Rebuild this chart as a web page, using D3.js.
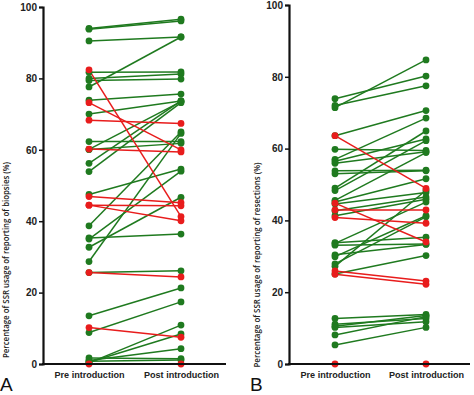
<!DOCTYPE html>
<html>
<head>
<meta charset="utf-8">
<script src="https://cdn.jsdelivr.net/npm/d3@7"></script>
<style>
  body { margin: 0; background: #fff; }
  svg text { font-family: "Liberation Sans", Arial, sans-serif; }
  .tick text { font-weight: bold; font-size: 10px; fill: #222; }
  .cat text { font-weight: bold; font-size: 9.5px; fill: #222; }
  .ylab { font-family: "Open Sans", sans-serif !important; font-weight: 600; font-size: 8.5px; fill: #222; }
  .panel { font-size: 19px; fill: #111; }
</style>
</head>
<body>
<div id="chart"></div>
<script>
var categories = ["Pre introduction", "Post introduction"];
var yTicks = [0, 20, 40, 60, 80, 100];

// panel A - biopsies
var preA = [94.0, 93.8, 90.5, 77.6, 82.4, 81.7, 80.0, 79.4, 73.9, 73.2, 70.0, 68.3,
            62.3, 60.1, 60.1, 60.2, 56.2, 53.9, 47.5, 46.9, 44.5, 44.5, 38.7, 35.3,
            35.0, 32.7, 28.7, 25.6, 25.6, 13.5, 10.2, 8.8, 0.3, 0.5, 1.0, 1.7, 0.8, 0.0];
var postA = [96.6, 96.1, 91.6, 91.6, 41.3, 81.8, 81.2, 79.8, 75.6, 60.0, 73.7, 67.4,
             62.3, 61.8, 73.5, 59.4, 73.7, 73.2, 54.6, 45.2, 44.3, 40.1, 65.0, 36.4,
             54.0, 46.7, 64.6, 26.1, 24.4, 21.3, 7.5, 17.4, 10.9, 8.4, 4.3, 1.5, 1.1, 0.0];
var colorA = ["g","g","g","g","r","g","g","g","g","r","g","r",
              "g","g","g","r","g","g","g","r","r","r","g","g",
              "g","g","g","g","r","g","r","g","g","g","g","g","g","r"];

// panel B - resections
var preB = [73.9, 71.4, 72.0, 63.6, 63.6, 59.8, 57.0, 56.5, 55.9, 53.8, 53.0, 49.0,
            48.3, 45.6, 45.1, 44.6, 42.7, 41.3, 33.6, 33.8, 33.1, 30.4, 29.9, 27.9,
            27.2, 25.1, 44.8, 42.9, 40.8, 25.9, 25.0, 12.7, 11.1, 10.5, 10.2, 8.1, 5.3, 0.0];
var postB = [80.2, 84.7, 77.5, 70.6, 48.9, 59.5, 68.5, 62.7, 59.1, 54.0, 53.8, 64.9,
             62.2, 58.9, 51.6, 47.8, 46.5, 45.9, 45.1, 35.3, 33.4, 33.3, 41.3, 41.0,
             48.4, 30.2, 34.0, 42.9, 39.2, 23.1, 22.2, 13.8, 12.7, 13.5, 11.8, 13.2, 10.2, 0.0];
var colorB = ["g","g","g","g","r","g","g","g","g","g","g","g",
              "g","g","g","g","g","g","g","g","g","g","g","g",
              "g","g","r","r","r","r","r","g","g","g","g","g","g","r"];

var palette = { g: "#1f7a1f", r: "#e81c1c" };
var catWidths = [70, 75];

var svg = d3.select("#chart").append("svg")
  .attr("width", 474)
  .attr("height", 395);

function drawPanel(opts) {
  var g = svg.append("g");

  var y = d3.scaleLinear().domain([0, 100]).range([364, opts.yTop]);
  var x = d3.scalePoint().domain(categories).range([opts.xPre, opts.xPost]);

  var rows = opts.pre.map(function(v, i) {
    return { pre: v, post: opts.post[i], c: opts.col[i] };
  });
  // greens first so reds sit on top like in the original
  rows.sort(function(a, b) { return (a.c === "r") - (b.c === "r"); });

  g.selectAll("line.pair")
    .data(rows)
    .enter().append("line")
    .attr("class", "pair")
    .attr("x1", x(categories[0]))
    .attr("x2", x(categories[1]))
    .attr("y1", function(d) { return y(d.pre); })
    .attr("y2", function(d) { return y(d.post); })
    .attr("stroke", function(d) { return palette[d.c]; })
    .attr("stroke-width", 1.5);

  categories.forEach(function(cat, k) {
    g.selectAll("circle.c" + k)
      .data(rows)
      .enter().append("circle")
      .attr("cx", x(cat))
      .attr("cy", function(d) { return y(k === 0 ? d.pre : d.post); })
      .attr("r", 3.4)
      .attr("fill", function(d) { return palette[d.c]; });
  });

  var yAxis = g.append("g")
    .attr("transform", "translate(" + opts.axisX + ",0)")
    .call(d3.axisLeft(y).tickValues(yTicks).tickSize(4).tickPadding(2));
  yAxis.select(".domain").attr("stroke", "#111").attr("stroke-width", 2.2);
  yAxis.selectAll(".tick line").attr("stroke", "#111").attr("stroke-width", 1.5);

  var xAxis = g.append("g")
    .attr("class", "cat")
    .attr("transform", "translate(0,364)")
    .call(d3.axisBottom(x).tickSize(0).tickPadding(7));
  xAxis.select(".domain").remove();
  xAxis.selectAll(".tick text")
    .attr("textLength", function(d, i) { return catWidths[i]; })
    .attr("lengthAdjust", "spacingAndGlyphs");

  g.append("line")
    .attr("x1", opts.axisX - 1).attr("x2", opts.axisEnd)
    .attr("y1", 364).attr("y2", 364)
    .attr("stroke", "#111").attr("stroke-width", 2.2);

  g.append("text")
    .attr("class", "ylab")
    .attr("transform", "translate(" + opts.labX + "," + opts.labY + ") rotate(-90)")
    .attr("text-anchor", "middle")
    .attr("dy", "0.35em")
    .attr("textLength", opts.labLen)
    .attr("lengthAdjust", "spacingAndGlyphs")
    .text(opts.label);

  g.append("text")
    .attr("class", "panel")
    .attr("x", opts.letterX)
    .attr("y", 391)
    .text(opts.letter);
}

drawPanel({
  pre: preA, post: postA, col: colorA,
  yTop: 7, xPre: 89, xPost: 181, axisX: 43, axisEnd: 226,
  labX: 6, labY: 260, labLen: 196,
  label: "Percentage of SSR usage of reporting of biopsies (%)",
  letter: "A", letterX: 0
});

drawPanel({
  pre: preB, post: postB, col: colorB,
  yTop: 5, xPre: 335, xPost: 426, axisX: 289, axisEnd: 470,
  labX: 257, labY: 265, labLen: 205,
  label: "Percentage of SSR usage of reporting of resections (%)",
  letter: "B", letterX: 250
});
</script>
</body>
</html>
